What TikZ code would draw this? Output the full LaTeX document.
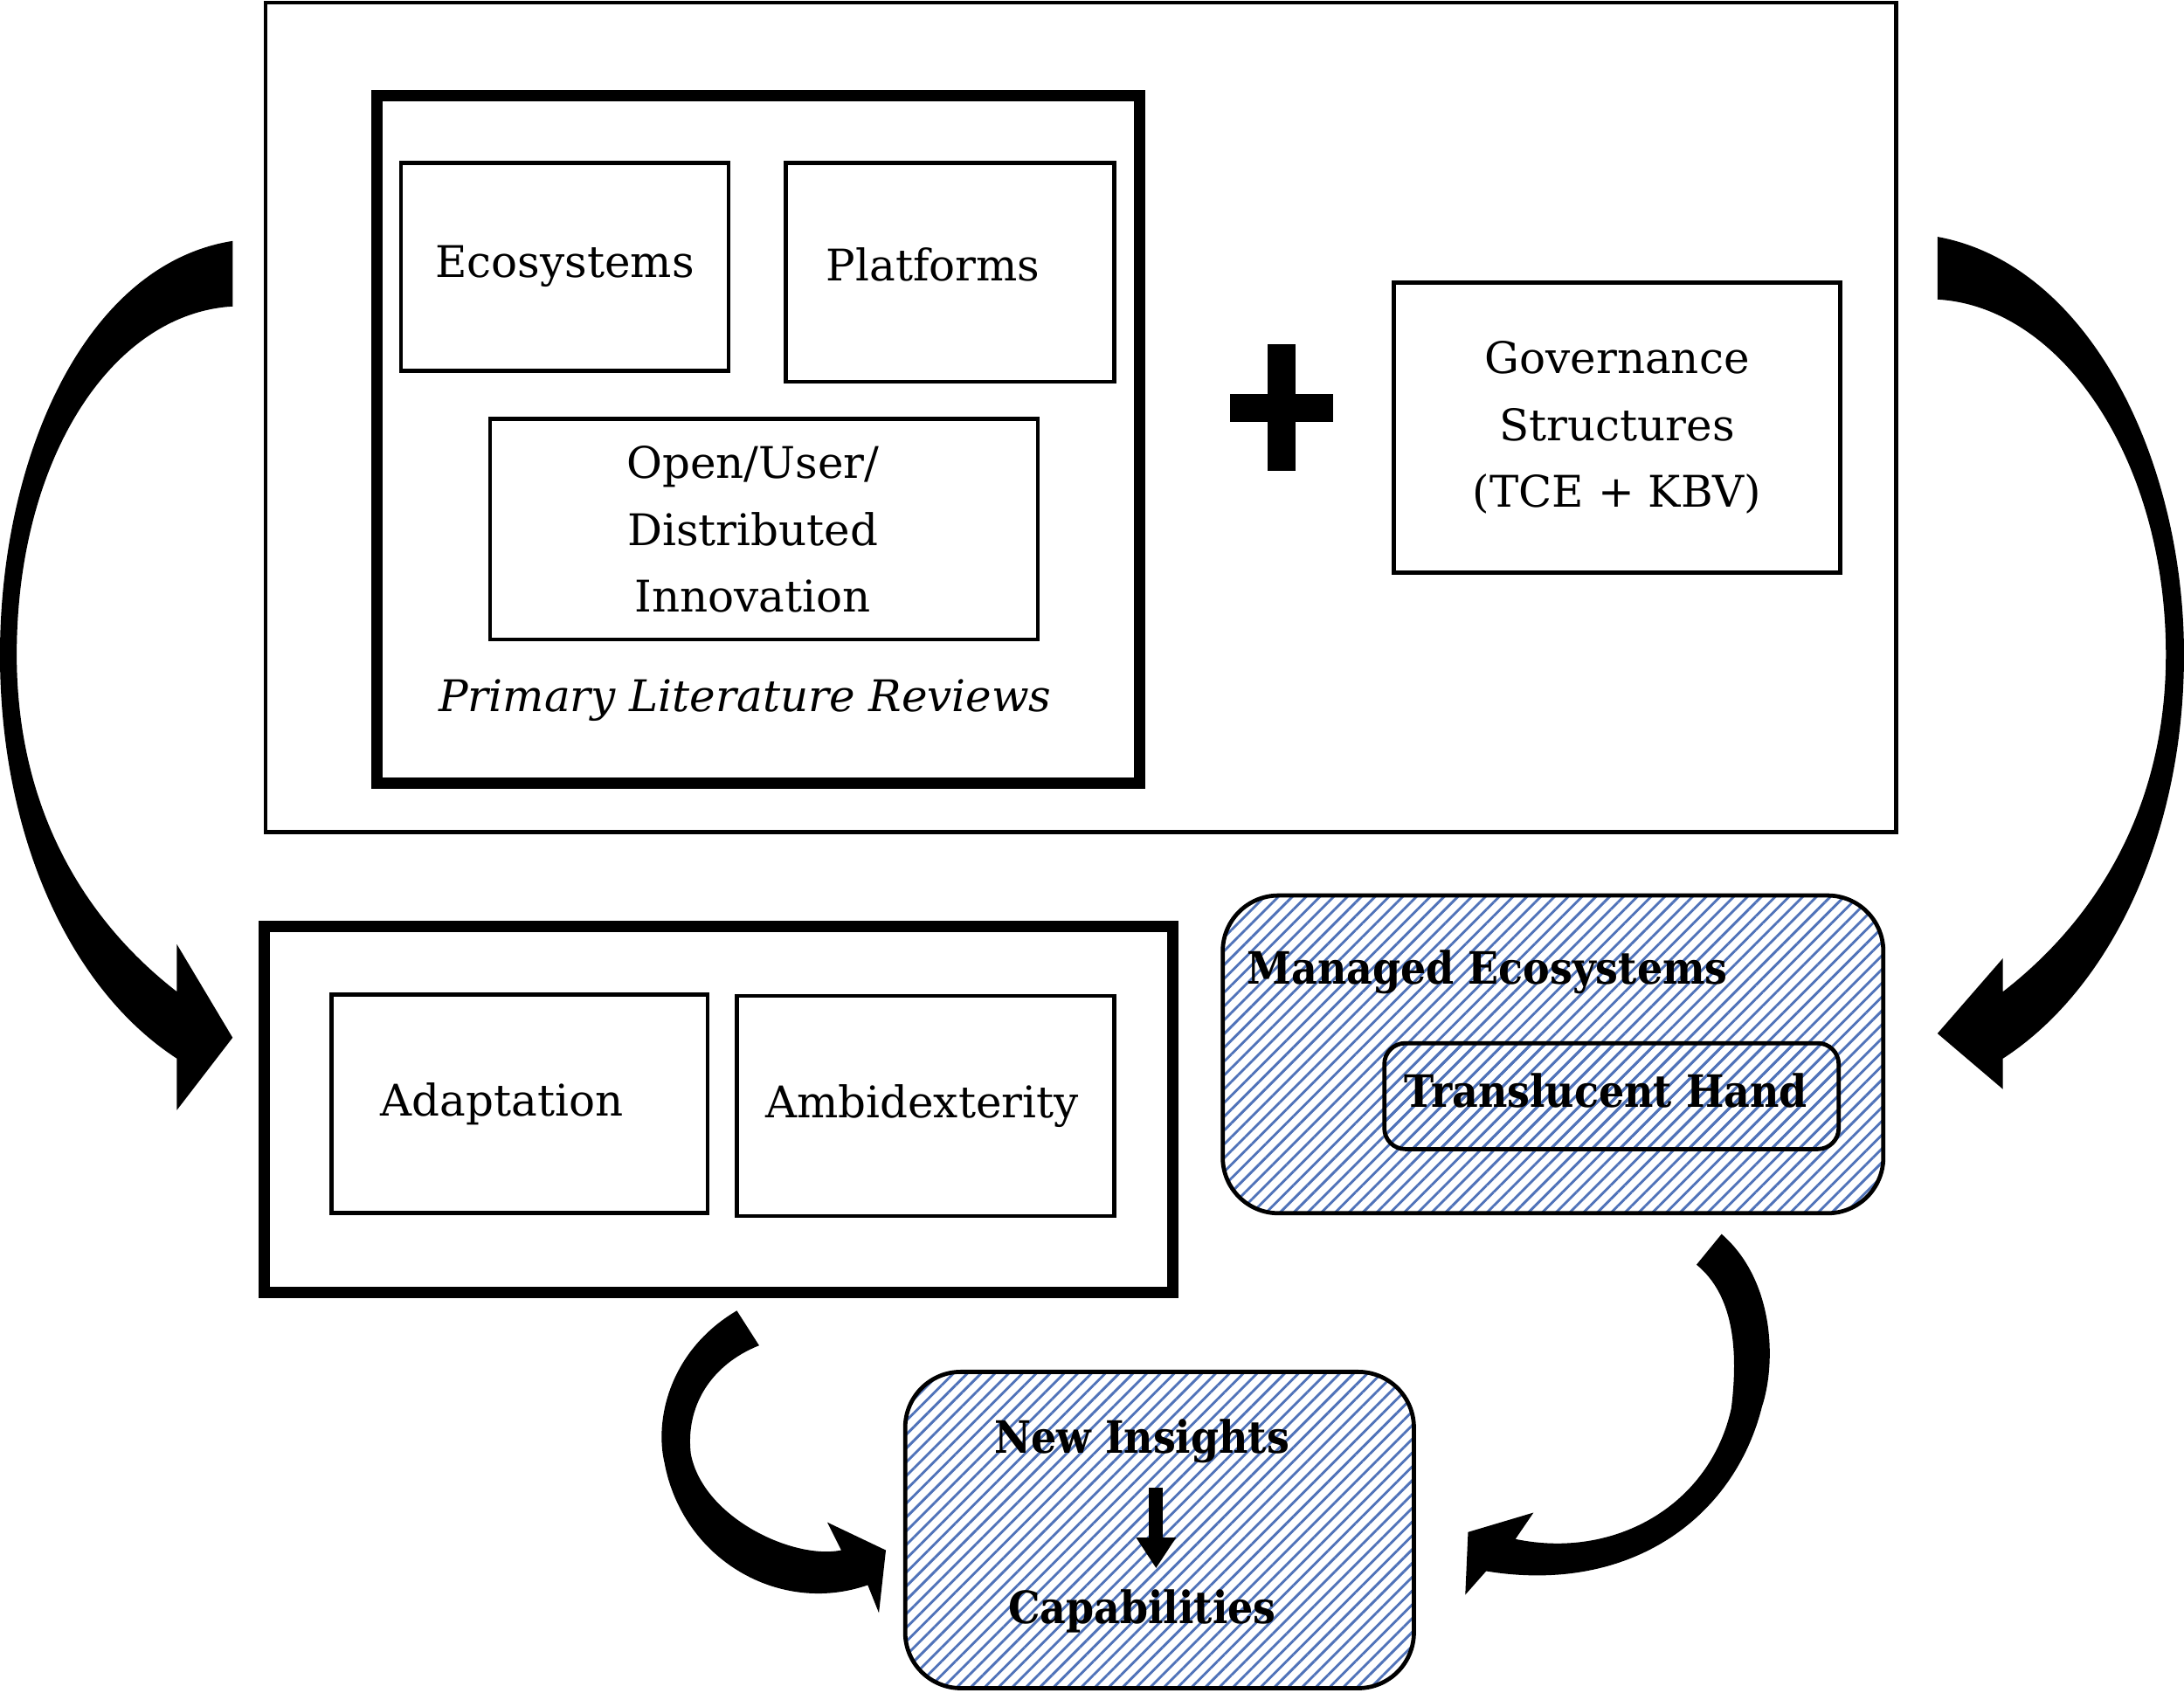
\documentclass[tikz,border=0pt]{standalone}
\usepackage{fontspec}
\setmainfont{DejaVu Serif}
\newfontfamily\bfc{DejaVu Serif Condensed}
\usetikzlibrary{patterns.meta,arrows.meta}
\definecolor{hblue}{RGB}{80,115,185}
\begin{document}
\begin{tikzpicture}[x=0.01cm,y=-0.01cm,
  txt/.style={font=\fontsize{8.9}{13.6}\selectfont,align=center,inner sep=0},
  box/.style={draw,line width=0.85pt,txt},
  thick box/.style={draw,line width=2.3pt},
  hatch/.style={draw,line width=0.85pt,rounded corners=0.4cm,
    pattern={Lines[angle=45,distance=0.07cm,line width=0.018cm]},pattern color=hblue},
  bold/.style={font=\bfc\bfseries\fontsize{9.1}{13}\selectfont,inner sep=0},
  bigarrow/.style={fill=black,draw=none}]
\useasboundingbox (0,0) rectangle (1568,1215);
% top
\node[draw,line width=0.85pt,minimum width=11.7cm,minimum height=5.95cm] (top) at (776,299.5) {};
\node[thick box,minimum width=5.47cm,minimum height=4.93cm] (prim) at (544.5,315.5) {};
\node[box,minimum width=2.35cm,minimum height=1.49cm] (eco) at (405.5,191.5) {Ecosystems};
\node[box,minimum width=2.36cm,minimum height=1.57cm] (plat) at (682,195.5) {\hspace*{-0.24cm}\raisebox{0.12cm}{Platforms}};
\node[box,minimum width=3.93cm,minimum height=1.58cm] (open) at (548.5,380) {\hspace*{-0.16cm}Open/User/\\\hspace*{-0.16cm}Distributed\\\hspace*{-0.16cm}Innovation};
\node[txt,font=\itshape\fontsize{8.9}{13.6}\selectfont] (plr) at (535,503) {Primary Literature Reviews};
\fill (883,283) rectangle (957,303);
\fill (910,247) rectangle (930,338);
\node[box,minimum width=3.2cm,minimum height=2.08cm] (gov) at (1161,307) {\raisebox{0.13cm}{\parbox{3cm}{\centering Governance\\Structures\\(TCE + KBV)}}};
% middle
\node[thick box,minimum width=6.52cm,minimum height=2.63cm] (mid) at (516,796.5) {};
\node[box,minimum width=2.7cm,minimum height=1.57cm] (ada) at (373,792.5) {\hspace*{-0.25cm}Adaptation};
\node[box,minimum width=2.71cm,minimum height=1.58cm] (amb) at (664.5,794) {\hspace*{-0.05cm}Ambidexterity};
\node[hatch,minimum width=4.74cm,minimum height=2.28cm] (man) at (1115,757) {};
\node[bold] (manl) at (1068,698) {Managed Ecosystems};
\node[hatch,rounded corners=0.15cm,minimum width=3.26cm,minimum height=0.76cm] (tr) at (1157,787) {};
\node[bold] (trl) at (1153,783) {Translucent Hand};
% bottom
\node[hatch,minimum width=3.65cm,minimum height=2.27cm] (ni) at (832.5,1098.5) {};
\node[bold] (nil) at (820,1035) {New Insights};
\node[bold] (cap) at (820,1157) {Capabilities};
\coordinate (a1) at (830,1068);
\coordinate (a2) at (830,1126);
\draw[line width=0.1cm,-{Triangle[width=0.27cm,length=0.22cm]}] (a1) -- (a2);
% big left arrow
\fill[bigarrow] (167,173) .. controls (60,190) and (0,330) .. (0,470)
  .. controls (0,600) and (50,710) .. (127,760) -- (127,797) -- (167,745) -- (127,678) -- (127,712)
  .. controls (60,660) and (12,580) .. (12,470) .. controls (12,330) and (80,225) .. (167,220) -- cycle;
% big right arrow
\fill[bigarrow] (1391,170) .. controls (1500,190) and (1568,330) .. (1568,470)
  .. controls (1568,600) and (1515,710) .. (1438,760) -- (1438,782) -- (1391,742) -- (1438,688) -- (1438,712)
  .. controls (1505,660) and (1555,580) .. (1555,470) .. controls (1555,330) and (1480,220) .. (1391,215) -- cycle;
% lower left arrow
\fill[bigarrow] (529,941) .. controls (480,970) and (470,1020) .. (477,1050)
  .. controls (490,1120) and (560,1160) .. (623,1138) -- (631,1158) -- (636,1113) -- (594,1093) -- (604,1113)
  .. controls (570,1120) and (505,1090) .. (496,1044) .. controls (492,1010) and (510,980) .. (545,966) -- cycle;
% lower right arrow
\fill[bigarrow] (1236,886) .. controls (1275,920) and (1275,980) .. (1265,1010)
  .. controls (1245,1090) and (1170,1145) .. (1067,1128) -- (1052,1145) -- (1054,1100) -- (1101,1086) -- (1088,1105)
  .. controls (1160,1120) and (1228,1080) .. (1243,1011) .. controls (1248,970) and (1245,930) .. (1218,908) -- cycle;
\end{tikzpicture}
\end{document}
